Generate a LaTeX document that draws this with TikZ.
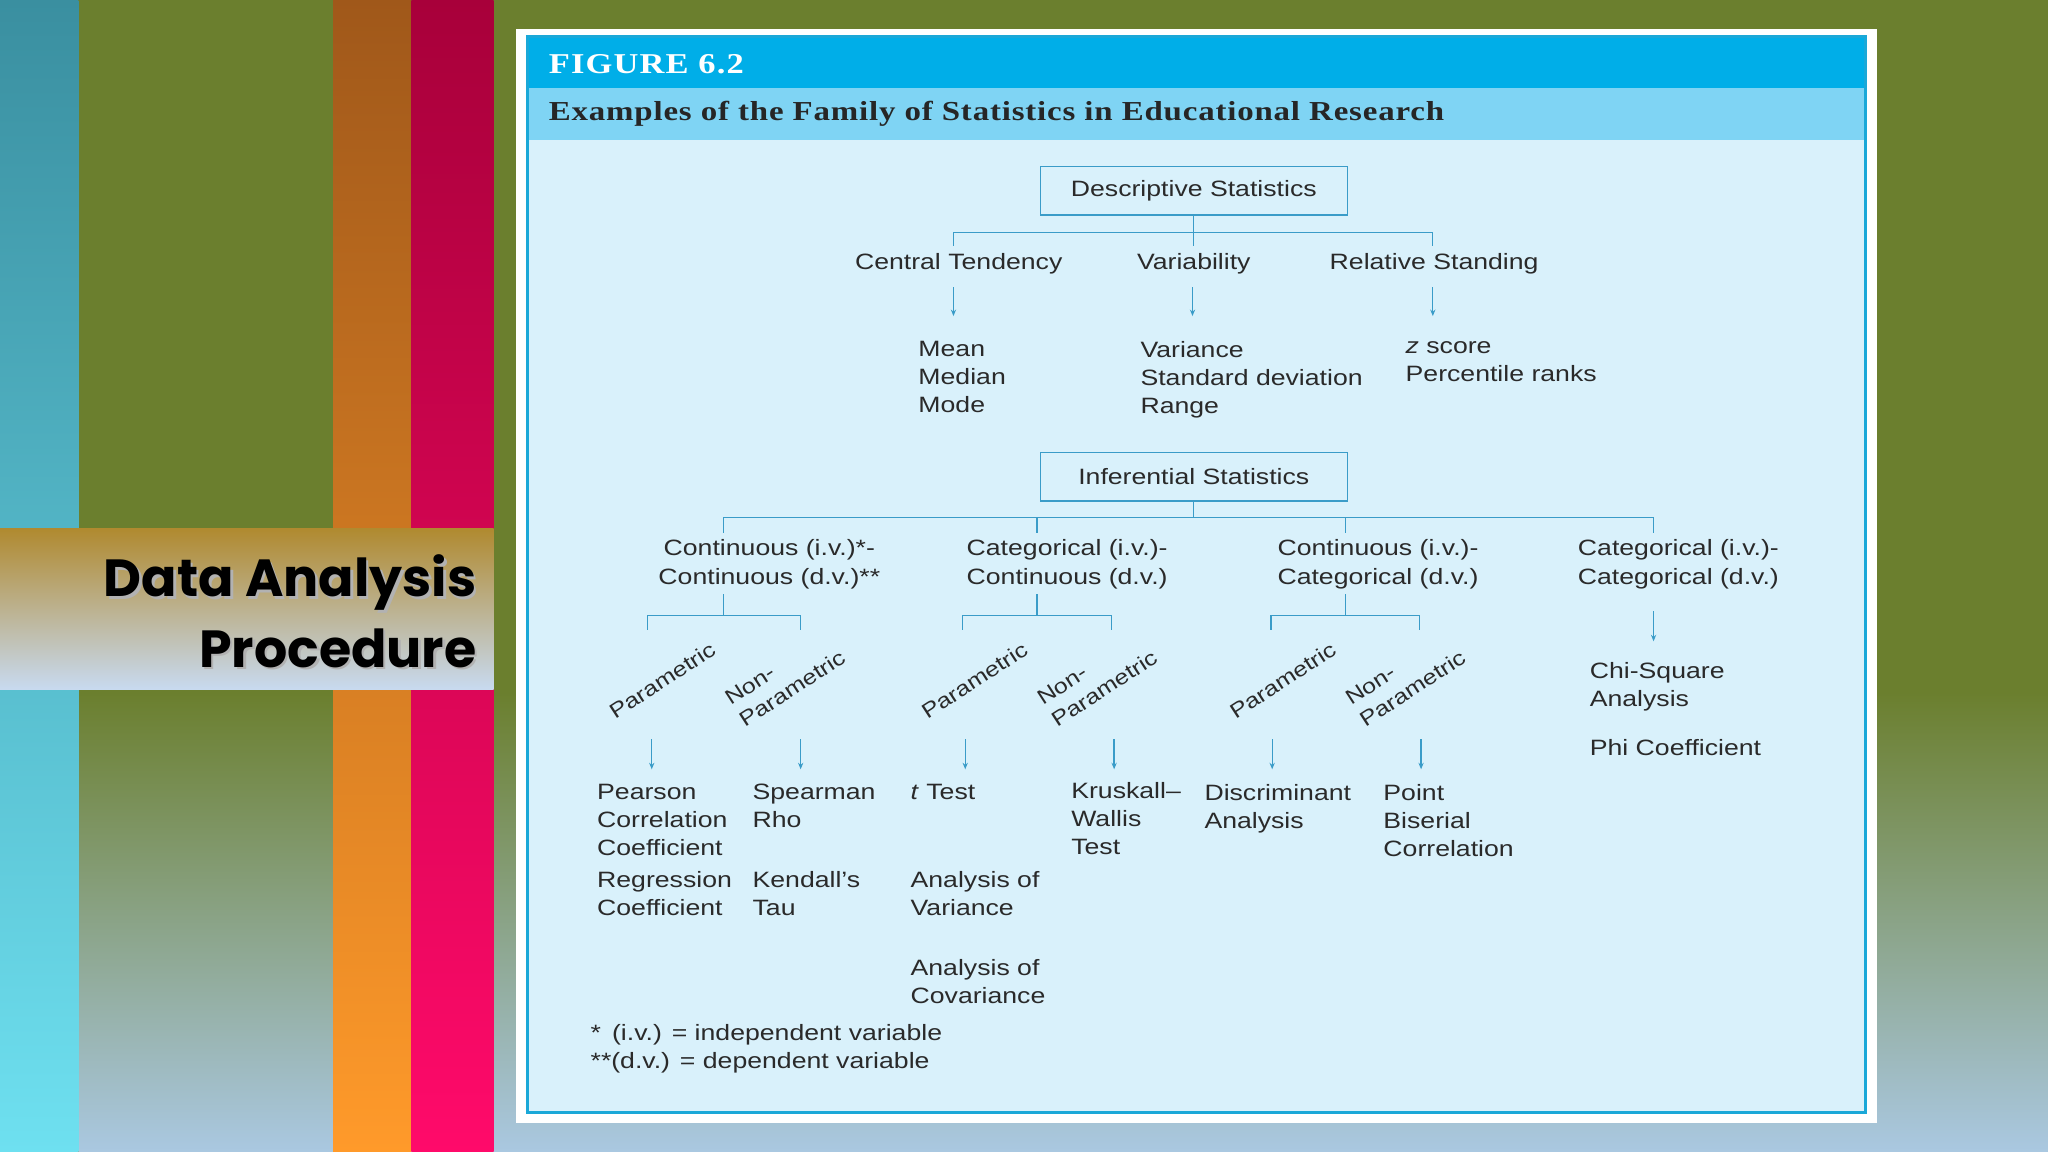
\documentclass[tikz,border=0pt]{standalone}
\usepackage{fontspec}
\usetikzlibrary{arrows.meta}
\setmainfont{Liberation Sans}[FakeStretch=1.2]
\newfontfamily\popb{Poppins}[UprightFont=* Bold]
\newfontfamily\serifb{Liberation Serif}[FakeStretch=1.2]
\definecolor{ln}{HTML}{3A9CC8}
\definecolor{tx}{HTML}{2A2A2A}
\begin{document}
\begin{tikzpicture}[x=1pt,y=-1pt,
  t/.style={font=\fontsize{17}{21.5}\selectfont,text=tx,inner sep=0pt,align=left},
  tc/.style={t,align=center},
  bx/.style={t,draw=ln,line width=1pt,minimum width=235pt,minimum height=37pt},
  arr/.style={ln,line width=1pt,-{Stealth[length=5pt,width=4pt]}},
  lk/.style={ln,line width=1pt},
  rot/.style={t,align=left,rotate=33}]
\useasboundingbox (0,0) rectangle (1568,882);
% background
\fill[color={rgb,255:red,107;green,127;blue,46}] (0,0) rectangle (1568,882);
\shade[top color={rgb,255:red,107;green,127;blue,46}, bottom color={rgb,255:red,170;green,200;blue,225}] (60,530) rectangle (1568,882);
\shade[top color={rgb,255:red,58;green,143;blue,160}, bottom color={rgb,255:red,110;green,224;blue,240}] (0,0) rectangle (60,882);
\shade[top color={rgb,255:red,160;green,88;blue,26}, bottom color={rgb,255:red,255;green,154;blue,42}] (255,0) rectangle (315,882);
\shade[top color={rgb,255:red,168;green,0;blue,58}, bottom color={rgb,255:red,255;green,10;blue,106}] (315,0) rectangle (378,882);
\shade[top color={rgb,255:red,176;green,138;blue,48}, bottom color={rgb,255:red,200;green,218;blue,240}] (0,405) rectangle (378,528);
\node[anchor=east,font=\popb\fontsize{40}{54}\selectfont,align=right,text=black!30,inner sep=0pt] at (367,470) {Data Analysis\\Procedure};
\node[anchor=east,font=\popb\fontsize{40}{54}\selectfont,align=right,text=black,inner sep=0pt] at (365,468) {Data Analysis\\Procedure};
% panel
\fill[white] (395,22) rectangle (1437,860);
\fill[color={rgb,255:red,217;green,241;blue,251}] (404,107) rectangle (1428,852);
\fill[color={rgb,255:red,0;green,174;blue,232}] (404,28) rectangle (1428,67);
\fill[color={rgb,255:red,127;green,212;blue,244}] (404,67) rectangle (1428,107);
\draw[color={rgb,255:red,26;green,168;blue,216},line width=2.5pt] (404,28) rectangle (1428,852);
\node[anchor=west,text=white,font=\serifb\bfseries\fontsize{22}{26}\selectfont\addfontfeature{LetterSpace=4},inner sep=0pt] at (420,49) {FIGURE 6.2};
\node[anchor=west,text=black!85,font=\serifb\bfseries\fontsize{21}{24}\selectfont\addfontfeature{LetterSpace=3},inner sep=0pt] at (420,87) {Examples of the Family of Statistics in Educational Research};
% descriptive
\node[bx] (ds) at (914,146) {Descriptive Statistics};
\coordinate (dj) at (914,178);
\draw[lk] (ds.south) -- (dj);
\draw[lk] (730,188) -- (730,178) -- (1097,178) -- (1097,188);
\draw[lk] (914,178) -- (914,188);
\node[tc] (ct) at (734,202) {Central Tendency};
\node[tc] (va) at (914,202) {Variability};
\node[tc] (rs) at (1098,202) {Relative Standing};
\node[t,anchor=north west] (l1) at (703,261) {Mean\\Median\\Mode};
\node[t,anchor=north west] (l2) at (873,261) {Variance\\Standard deviation\\Range};
\node[t,anchor=north west] (l3) at (1076,261) {\textit{z} score\\Percentile ranks};
\draw[arr] (730,220) -- (730,242);
\draw[arr] (913,220) -- (913,242);
\draw[arr] (1097,220) -- (1097,242);
% inferential
\node[bx] (is) at (914,365) {Inferential Statistics};
\draw[lk] (is.south) -- (914,396);
\draw[lk] (554,408) -- (554,396) -- (1266,396) -- (1266,408);
\draw[lk] (794,396) -- (794,408);
\draw[lk] (1030,396) -- (1030,408);
\node[tc] (c1) at (589,432) {Continuous (i.v.)*-\\Continuous (d.v.)**};
\node[tc] (c2) at (817,432) {Categorical (i.v.)-\\Continuous (d.v.)};
\node[tc] (c3) at (1055,432) {Continuous (i.v.)-\\Categorical (d.v.)};
\node[tc] (c4) at (1285,432) {Categorical (i.v.)-\\Categorical (d.v.)};
\foreach \m/\a/\b in {554/496/613,794/737/851,1030/973/1087}{
  \draw[lk] (\m,455) -- (\m,471);
  \draw[lk] (\a,482) -- (\a,471) -- (\b,471) -- (\b,482);}
\draw[arr] (1266,468) -- (1266,491);
\foreach \p/\n in {507/601,746/840,982/1076}{
  \node[rot,font=\fontsize{16}{20}\selectfont] at (\p,521) {Parametric};
  \node[rot,font=\fontsize{16}{20}\selectfont] at (\n,519) {Non-\\Parametric};}
\foreach \x in {499,613,739,853,974,1088}{\draw[arr] (\x,566) -- (\x,589);}
\node[t,anchor=north west] at (457,600) {Pearson\\Correlation\\Coefficient};
\node[t,anchor=north west] at (457,667) {Regression\\Coefficient};
\node[t,anchor=north west] at (576,600) {Spearman\\Rho};
\node[t,anchor=north west] at (576,667) {Kendall's\\Tau};
\node[t,anchor=north west] at (697,600) {\textit{t} Test};
\node[t,anchor=north west] at (697,667) {Analysis of\\Variance};
\node[t,anchor=north west] at (697,734) {Analysis of\\Covariance};
\node[t,anchor=north west] at (820,599) {Kruskall--\\Wallis\\Test};
\node[t,anchor=north west] at (922,600) {Discriminant\\Analysis};
\node[t,anchor=north west] at (1059,600) {Point\\Biserial\\Correlation};
\node[t,anchor=north west] at (1217,507) {Chi-Square\\Analysis};
\node[t,anchor=north west] at (1217,566) {Phi Coefficient};
\node[t,anchor=north west] at (452,784) {*\enspace(i.v.) = independent variable\\**(d.v.) = dependent variable};
\end{tikzpicture}
\end{document}
